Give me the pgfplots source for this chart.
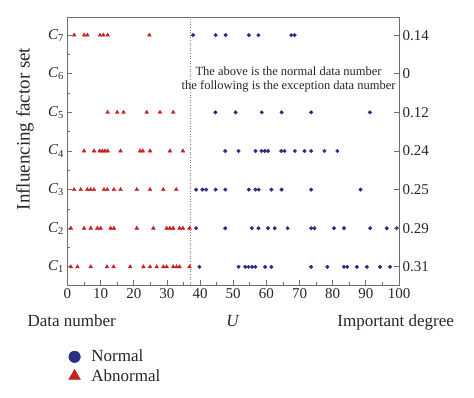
\documentclass[border=0pt]{standalone}
\usepackage{fontspec}
\setmainfont{Liberation Serif}
\usepackage{pgfplots}
\pgfplotsset{compat=1.18}
\definecolor{navy}{RGB}{43,45,135}
\definecolor{myred}{RGB}{200,32,32}
\definecolor{axgray}{RGB}{110,110,110}
\begin{document}
\begin{tikzpicture}
\useasboundingbox (-67.5pt,-113pt) rectangle (406.5pt,285pt);
\begin{axis}[
  at={(0pt,0pt)}, anchor=south west,
  scale only axis, width=331.5pt, height=268pt,
  xmin=0, xmax=100, ymin=0.53, ymax=7.47,
  xtick={0,10,...,100}, minor x tick num=1,
  ytick={1,...,7}, minor y tick num=1,
  yticklabels={{\itshape C}\textsubscript{1},{\itshape C}\textsubscript{2},{\itshape C}\textsubscript{3},{\itshape C}\textsubscript{4},{\itshape C}\textsubscript{5},{\itshape C}\textsubscript{6},{\itshape C}\textsubscript{7}},
  xtick pos=bottom, ytick pos=left,
  tick align=inside,
  axis line style={axgray, line width=0.9pt},
  every tick/.style={axgray, line width=0.8pt},
  major tick length=5pt, minor tick length=3pt,
  tick label style={font=\fontsize{15}{17}\selectfont, text=black!85},
  /pgf/number format/assume math mode=true,
  legend style={at={(0.003,-0.235)}, anchor=north west, draw=none, fill=none,
    font=\fontsize{17}{19}\selectfont, text=black!85, row sep=2pt, inner sep=0pt},
  legend cell align=left,
  clip=false,
]
\addplot[gray, dotted, line width=0.6pt, forget plot] coordinates {(37,0.53) (37,7.47)};
\addplot[only marks, mark=*, color=navy, mark size=1.8pt,
  legend image post style={mark size=5.8pt}] coordinates {
(39.8,1)(51.6,1)(53.6,1)(54.6,1)(55.7,1)(56.7,1)(59.6,1)(61.5,1)(73.5,1)(78.4,1)(83.4,1)(84.4,1)(87.3,1)(90.3,1)(94.3,1)(97.3,1)
(38.8,2)(47.6,2)(55.6,2)(57.6,2)(60.5,2)(62.5,2)(66.4,2)(73.5,2)(74.5,2)(80.4,2)(83.4,2)(91.3,2)(96.3,2)(99.3,2)
(38.8,3)(40.7,3)(41.8,3)(44.7,3)(47.6,3)(54.7,3)(56.7,3)(57.7,3)(61.5,3)(64.6,3)(73.5,3)(88.4,3)
(47.6,4)(51.6,4)(56.7,4)(58.5,4)(59.5,4)(60.5,4)(64.5,4)(65.5,4)(68.6,4)(71.5,4)(73.5,4)(77.5,4)(81.4,4)
(44.6,5)(50.7,5)(58.6,5)(64.6,5)(73.5,5)(91.2,5)
(37.9,7)(44.7,7)(47.7,7)(54.7,7)(57.6,7)(67.5,7)(68.5,7)
};
\addlegendentry{\hspace{9pt}Normal}
\addplot[only marks, mark=triangle*, color=myred, mark size=2.2pt,
  legend image post style={mark size=6.8pt}] coordinates {
(1.0,1)(3.0,1)(7.0,1)(11.9,1)(13.9,1)(18.9,1)(22.9,1)(24.9,1)(26.9,1)(28.9,1)(29.9,1)(31.9,1)(32.9,1)(33.8,1)(36.8,1)
(1.0,2)(5.0,2)(7.0,2)(9.0,2)(10.0,2)(13.0,2)(14.0,2)(20.9,2)(25.9,2)(29.9,2)(30.9,2)(31.9,2)(33.8,2)(34.8,2)(36.8,2)
(2.0,3)(4.0,3)(6.0,3)(7.0,3)(8.0,3)(11.0,3)(12.0,3)(14.0,3)(16.0,3)(20.9,3)(24.9,3)(28.9,3)(32.8,3)
(5.0,4)(8.0,4)(9.7,4)(10.5,4)(11.3,4)(12.1,4)(16.0,4)(21.9,4)(22.7,4)(24.9,4)(30.9,4)(34.8,4)
(12.1,5)(15.0,5)(16.9,5)(23.9,5)(27.9,5)(31.9,5)
(2.0,7)(5.0,7)(6.0,7)(9.8,7)(10.8,7)(12.1,7)(24.7,7)
};
\addlegendentry{\hspace{9pt}Abnormal}
\node[align=center, font=\fontsize{12.5}{14}\selectfont, text=black!85] at (axis cs:66.7,5.86)
  {The above is the normal data number\\the following is the exception data number};
\end{axis}
\begin{axis}[
  at={(0pt,0pt)}, anchor=south west,
  scale only axis, width=331.5pt, height=268pt,
  xmin=0, xmax=100, ymin=0.53, ymax=7.47,
  axis x line=none, axis y line*=right,
  ytick={1,...,7},
  yticklabels={0.31,0.29,0.25,0.24,0.12,0,0.14},
  tick align=inside,
  axis line style={axgray, line width=0.9pt},
  every tick/.style={axgray, line width=0.8pt},
  major tick length=5pt,
  tick label style={font=\fontsize{15}{17}\selectfont, text=black!85},
]
\end{axis}
\node[anchor=base west, font=\fontsize{17}{19}\selectfont, text=black!85] at (-43.5pt,-42pt) {Data number};
\node[anchor=base, font=\fontsize{17}{19}\selectfont\itshape, text=black!85] at (165pt,-42pt) {U};
\node[anchor=base east, font=\fontsize{17}{19}\selectfont, text=black!85] at (390pt,-42pt) {Important degree};
\node[rotate=90, font=\fontsize{19}{21}\selectfont, text=black!85] at (-42.5pt,156pt) {Influencing factor set};
\end{tikzpicture}
\end{document}
